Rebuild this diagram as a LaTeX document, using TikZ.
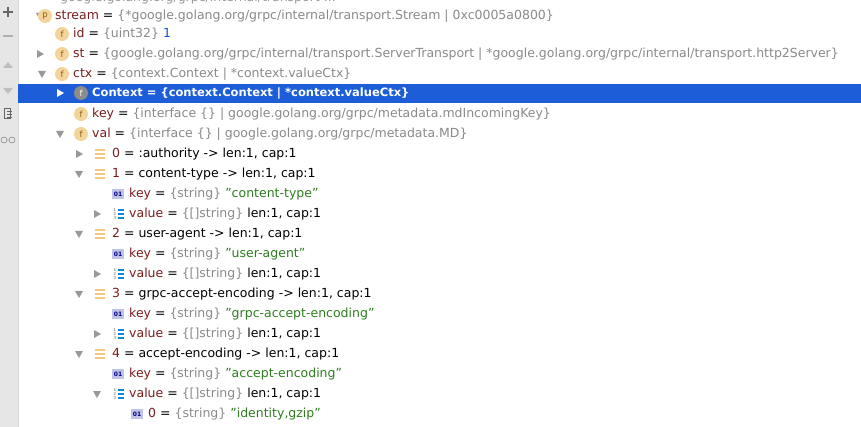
\documentclass[tikz,border=0pt]{standalone}
\usepackage{fontspec}
\setmainfont{DejaVu Sans}
\begin{document}
\begin{tikzpicture}[x=1pt,y=-1pt,
  txt/.style={anchor=west,inner sep=0pt,font=\fontsize{12.5}{14}\selectfont},
  tri/.style={fill=black!40,draw=none}]
\definecolor{nm}{HTML}{7A1E1E}\definecolor{ty}{HTML}{8A8A8A}
\definecolor{gr}{HTML}{2F7D20}\definecolor{bl}{HTML}{1C4FD6}
\definecolor{hl}{HTML}{1D5ED8}\definecolor{ic}{HTML}{F3D49A}
\definecolor{icd}{HTML}{8A5A10}\definecolor{sb}{HTML}{E6E6E6}
\newcommand\q{\symbol{34}}
\useasboundingbox (0,0) rectangle (861,427);
\fill[white] (0,0) rectangle (861,427);
% sidebar
\fill[sb] (0,0) rectangle (18,427);
\draw[black!15] (18,0) -- (18,427);
\draw[black!60,line width=1.2] (3,12)--(13,12) (8,7)--(8,17);
\draw[black!30,line width=1.2] (3,36)--(13,36);
\fill[black!25] (3,68)--(13,68)--(8,62)--cycle;
\fill[black!25] (3,88)--(13,88)--(8,94)--cycle;
\draw[black!60] (4,108) rectangle (10,118) (7,111)--(12,111) (7,114)--(12,114) (7,117)--(12,117);
\draw[black!60] (4,140) circle (3) (12,140) circle (3) (7,140)--(9,140);
% top cut row
\node[txt,text=black!40] (cut) at (60,-2) {google.golang.org/grpc/internal/transport ...};
% highlight
\fill[hl] (18,84) rectangle (861,103);
\newcommand\xopn[2]{\fill[tri] (#1-4,#2-3)--(#1+4,#2-3)--(#1,#2+4)--cycle;}
\newcommand\xcls[2]{\fill[tri] (#1-3,#2-4)--(#1-3,#2+4)--(#1+4,#2)--cycle;}
\newcommand\ficon[3]{\fill[ic] (#1,#2) circle (7);\node[inner sep=0pt,text=icd,font=\fontsize{8.5}{8.5}\selectfont] at (#1,#2) {#3};}
\newcommand\xbars[2]{\draw[ic!85!orange,line width=2] (#1-5,#2-4)--(#1+5,#2-4) (#1-5,#2)--(#1+5,#2) (#1-5,#2+4)--(#1+5,#2+4);}
\newcommand\xoi[2]{\fill[cyan!30!blue!25] (#1-6,#2-5) rectangle (#1+6,#2+5);\node[inner sep=0pt,text=blue!50!black,font=\fontsize{6}{6}\selectfont\bfseries] at (#1,#2) {01};}
\newcommand\xli[2]{\node[inner sep=0pt,text=black!60,font=\fontsize{4}{4}\selectfont,align=center] at (#1-3,#2) {1\\2\\3};\draw[cyan!70!blue,line width=1.3] (#1-0.5,#2-4)--(#1+6,#2-4) (#1-0.5,#2)--(#1+6,#2) (#1-0.5,#2+4)--(#1+6,#2+4);}
\newcommand\nm[1]{\textcolor{nm}{#1} = }
% rows
\xopn{40}{16}\ficon{45}{16}{p}
\node[txt] (r1) at (55,16) {\nm{stream}\color{ty}\{*google.golang.org/grpc/internal/transport.Stream | 0xc0005a0800\}};
\ficon{62}{34}{f}
\node[txt] (r2) at (73,34) {\nm{id}\color{ty}\{uint32\} \color{bl}1};
\xcls{40}{54}\ficon{62}{54}{f}
\node[txt] (r3) at (73,54) {\nm{st}\color{ty}\{google.golang.org/grpc/internal/transport.ServerTransport | *google.golang.org/grpc/internal/transport.http2Server\}};
\xopn{42}{74}\ficon{62}{74}{f}
\node[txt] (r4) at (73,74) {\nm{ctx}\color{ty}\{context.Context | *context.valueCtx\}};
\fill[white] (57,89)--(57,97)--(64,93)--cycle;
\fill[black!45] (81,93) circle (7);\node[inner sep=0pt,text=white,font=\fontsize{8.5}{8.5}\selectfont] at (81,93) {f};
\node[txt,text=white,font=\fontsize{11.5}{13}\selectfont\bfseries] (r5) at (92,93) {Context = \{context.Context | *context.valueCtx\}};
\ficon{81}{114}{f}
\node[txt] (r6) at (92,114) {\nm{key}\color{ty}\{interface \{\} | google.golang.org/grpc/metadata.mdIncomingKey\}};
\xopn{60}{134}\ficon{81}{134}{f}
\node[txt] (r7) at (92,134) {\nm{val}\color{ty}\{interface \{\} | google.golang.org/grpc/metadata.MD\}};
\xcls{79}{154}\xbars{100}{154}
\node[txt] (r8) at (112,154) {\nm{0}:authority -> len:1, cap:1};
\xopn{79}{174}\xbars{100}{174}
\node[txt] (r9) at (112,174) {\nm{1}content-type -> len:1, cap:1};
\xoi{118}{194}
\node[txt] (r10) at (129,194) {\nm{key}\color{ty}\{string\} \color{gr}\q content-type\q};
\xcls{97}{214}\xli{118}{214}
\node[txt] (r11) at (129,214) {\nm{value}\color{ty}\{[]string\} \color{black}len:1, cap:1};
\xopn{79}{234}\xbars{100}{234}
\node[txt] (r12) at (112,234) {\nm{2}user-agent -> len:1, cap:1};
\xoi{118}{254}
\node[txt] (r13) at (129,254) {\nm{key}\color{ty}\{string\} \color{gr}\q user-agent\q};
\xcls{97}{274}\xli{118}{274}
\node[txt] (r14) at (129,274) {\nm{value}\color{ty}\{[]string\} \color{black}len:1, cap:1};
\xopn{79}{294}\xbars{100}{294}
\node[txt] (r15) at (112,294) {\nm{3}grpc-accept-encoding -> len:1, cap:1};
\xoi{118}{314}
\node[txt] (r16) at (129,314) {\nm{key}\color{ty}\{string\} \color{gr}\q grpc-accept-encoding\q};
\xcls{97}{334}\xli{118}{334}
\node[txt] (r17) at (129,334) {\nm{value}\color{ty}\{[]string\} \color{black}len:1, cap:1};
\xopn{79}{354}\xbars{100}{354}
\node[txt] (r18) at (112,354) {\nm{4}accept-encoding -> len:1, cap:1};
\xoi{118}{374}
\node[txt] (r19) at (129,374) {\nm{key}\color{ty}\{string\} \color{gr}\q accept-encoding\q};
\xopn{97}{394}\xli{118}{394}
\node[txt] (r20) at (129,394) {\nm{value}\color{ty}\{[]string\} \color{black}len:1, cap:1};
\xoi{137}{414}
\node[txt] (r21) at (148,414) {\nm{0}\color{ty}\{string\} \color{gr}\q identity,gzip\q};
\end{tikzpicture}
\end{document}
